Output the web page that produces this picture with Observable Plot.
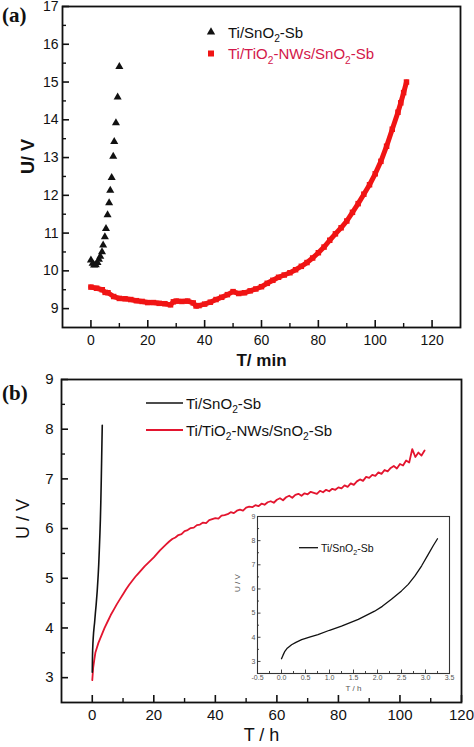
<!DOCTYPE html>
<html>
<head>
<meta charset="utf-8">
<script src="https://cdn.jsdelivr.net/npm/d3@7"></script>
<script src="https://cdn.jsdelivr.net/npm/@observablehq/plot@0.6"></script>
<style>
  body { margin: 0; background: #fff; }
  #fig { position: relative; width: 474px; height: 747px; overflow: hidden; background: #fff; }
  #fig > div { position: absolute; }
</style>
</head>
<body>
<div id="fig"></div>
<script>
const FONT = '"Liberation Sans", Arial, Helvetica, sans-serif';
const SERIF = '"Liberation Serif", "Times New Roman", serif';

// Series names (underscore marks a subscript digit)
const seriesNames = ["Ti/SnO_2-Sb", "Ti/TiO_2-NWs/SnO_2-Sb"];

// ---- Panel (a): cell voltage during accelerated life test, time in minutes ----
const tA_SnO2 = [0, 0.6, 1.1, 1.7, 2.3, 2.8, 3.3, 3.9, 4.3, 4.9, 5.3, 5.85, 6.4, 6.8, 7.3, 7.85, 8.2, 8.8, 9.4, 10];
const uA_SnO2 = [10.28, 10.2, 10.15, 10.16, 10.22, 10.3, 10.38, 10.5, 10.68, 10.9, 11.12, 11.48, 11.8, 12.13, 12.47, 13.03, 13.42, 13.92, 14.6, 15.41];

const tA_NWs = [0, 2, 4, 5, 6, 8, 10, 12, 14, 16, 18, 20, 22, 24, 26, 28, 29, 30, 32, 34,
  36, 37, 38, 40, 42, 44, 46, 48, 50, 52, 54, 56, 58, 60, 62, 64, 66, 68, 70, 72,
  74, 76, 78, 80, 82, 84, 86, 88, 90, 92, 94, 96, 98, 100, 102, 104, 106, 108, 109, 110, 111];
const uA_NWs = [9.57, 9.54, 9.50, 9.43, 9.42, 9.32, 9.27, 9.26, 9.24, 9.21, 9.19, 9.16, 9.16, 9.14, 9.13, 9.10, 9.18, 9.20, 9.19, 9.20,
  9.15, 9.07, 9.08, 9.12, 9.17, 9.24, 9.30, 9.37, 9.45, 9.40, 9.42, 9.47, 9.52, 9.58, 9.67, 9.75, 9.83, 9.89, 9.95, 10.03,
  10.12, 10.22, 10.34, 10.48, 10.63, 10.81, 10.98, 11.14, 11.32, 11.55, 11.78, 12.03, 12.28, 12.57, 12.90, 13.30, 13.75, 14.20, 14.45, 14.72, 15.00];

const xTicksA = [0, 20, 40, 60, 80, 100, 120];
const xMinorA = [10, 30, 50, 70, 90, 110];
const yTicksA = [9, 10, 11, 12, 13, 14, 15, 16, 17];
const yMinorA = [9.5, 10.5, 11.5, 12.5, 13.5, 14.5, 15.5, 16.5];

// ---- Panel (b): cell voltage vs. time in hours ----
const tB_SnO2 = [0, 0.03, 0.07, 0.12, 0.21, 0.3, 0.42, 0.6, 0.76, 1.0, 1.25, 1.6, 1.94, 2.1, 2.29, 2.5, 2.64, 2.78, 2.92, 3.06, 3.16, 3.25];
const uB_SnO2 = [3.11, 3.25, 3.42, 3.55, 3.69, 3.79, 3.90, 4.02, 4.11, 4.29, 4.46, 4.74, 5.08, 5.28, 5.57, 5.92, 6.19, 6.54, 6.96, 7.44, 7.79, 8.08];

const tB_NWs = [0, 0.3, 0.7, 1, 1.5, 2, 3, 4, 5, 6, 7, 8, 9, 10, 11, 12, 13, 14, 15, 16, 17, 18, 19, 20, 21, 22, 23, 24,
  25, 26, 27, 28, 29, 30, 31, 32, 33, 34, 35, 36, 37, 38, 39, 40, 41, 42, 43, 44, 45, 46, 47, 48, 49, 50,
  51, 52, 53, 54, 55, 56, 57, 58, 59, 60, 61, 62, 63, 64, 65, 66, 67, 68, 69, 70, 71, 72, 73, 74, 75, 76, 77, 78, 79, 80,
  81, 82, 83, 84, 85, 86, 87, 88, 89, 90, 91, 92, 93, 94, 95, 96, 97, 98, 99, 100, 101, 102, 103, 104, 105, 106, 107, 108];
const uB_NWs = [2.95, 3.2, 3.38, 3.5, 3.6, 3.7, 3.85, 4.0, 4.13, 4.26, 4.37, 4.48, 4.58, 4.68, 4.78, 4.87, 4.95, 5.03, 5.10, 5.17, 5.24, 5.30, 5.36, 5.42, 5.49, 5.56, 5.62, 5.68,
  5.74, 5.79, 5.82, 5.87, 5.89, 5.95, 5.97, 6.01, 6.02, 6.07, 6.08, 6.12, 6.11, 6.17, 6.19, 6.21, 6.20, 6.26, 6.27, 6.29, 6.33, 6.31, 6.36, 6.38, 6.36, 6.42,
  6.44, 6.43, 6.47, 6.45, 6.50, 6.48, 6.53, 6.55, 6.52, 6.58, 6.61, 6.57, 6.63, 6.66, 6.62, 6.68, 6.70, 6.66, 6.71, 6.69, 6.74, 6.72, 6.70, 6.76, 6.73, 6.78, 6.75, 6.80, 6.78, 6.83,
  6.81, 6.87, 6.84, 6.91, 6.88, 6.95, 6.99, 6.96, 7.04, 7.02, 7.08, 7.06, 7.13, 7.10, 7.18, 7.15, 7.22, 7.26, 7.21, 7.30, 7.27, 7.37, 7.33, 7.60, 7.44, 7.53, 7.47, 7.57];

const xTicksB = [0, 20, 40, 60, 80, 100, 120];
const xMinorB = [10, 30, 50, 70, 90, 110];
const yTicksB = [3, 4, 5, 6, 7, 8, 9];
const yMinorB = [3.5, 4.5, 5.5, 6.5, 7.5, 8.5];

// ---- Inset of panel (b): the Ti/SnO2-Sb curve on its own time scale ----
const xTicksIn = [-0.5, 0, 0.5, 1, 1.5, 2, 2.5, 3, 3.5];
const xMinorIn = [-0.25, 0.25, 0.75, 1.25, 1.75, 2.25, 2.75, 3.25];
const yTicksIn = [3, 4, 5, 6, 7, 8, 9];
const yMinorIn = [3.5, 4.5, 5.5, 6.5, 7.5, 8.5];

const zipTU = (t, u) => t.map((x, i) => ({t: x, u: u[i]}));
const dataA1 = zipTU(tA_SnO2, uA_SnO2);
const dataA2 = zipTU(tA_NWs, uA_NWs);
const dataB1 = zipTU(tB_SnO2, uB_SnO2);
const dataB2 = zipTU(tB_NWs, uB_NWs);

const RED = "#f01414";
const RED_TEXT = "#d3174a";
const RED_LINE = "#e3152f";
const INK = "#111";
const intFmt = d => String(d);

// Inward-pointing ticks on the bottom and left frame edges
function inwardTicks(xs, ys, frameW, frameH, len, style) {
  return [
    Plot.tickX(xs, {x: d => d, insetTop: frameH - len, ...style}),
    Plot.tickY(ys, {y: d => d, insetRight: frameW - len, ...style})
  ];
}

// Text with subscript digits written as "_2"
function subText(g, x, y, str, size, color, anchor = "start") {
  const t = g.append("text").attr("x", x).attr("y", y)
    .attr("font-size", size).attr("fill", color)
    .attr("font-family", FONT).attr("text-anchor", anchor);
  let lowered = false;
  str.split(/(_\d)/).forEach(part => {
    if (!part) return;
    if (part.startsWith("_")) {
      t.append("tspan").attr("dy", size * 0.3).attr("font-size", size * 0.68).text(part.slice(1));
      lowered = true;
    } else {
      const s = t.append("tspan").text(part);
      if (lowered) { s.attr("dy", -size * 0.3); lowered = false; }
    }
  });
  return t;
}

function panelLabel(sel, y, label) {
  sel.append("text").attr("x", 2).attr("y", y).attr("text-anchor", "start")
    .attr("font-family", SERIF).attr("font-weight", "bold")
    .attr("font-size", 21).attr("fill", INK).text(label);
}

const fig = d3.select("#fig");
function place(svg, left, top) {
  fig.append("div").style("left", left + "px").style("top", top + "px").node().appendChild(svg);
  return d3.select(svg);
}

// ================= Panel (a) =================
const A = {w: 474, h: 376, ml: 62, mr: 14, mt: 6, mb: 49};
const aFW = A.w - A.ml - A.mr, aFH = A.h - A.mt - A.mb;
const panelA = Plot.plot({
  width: A.w, height: A.h,
  marginLeft: A.ml, marginRight: A.mr, marginTop: A.mt, marginBottom: A.mb,
  x: {domain: [-10, 130]},
  y: {domain: [8.5, 17]},
  style: {background: "transparent", fontFamily: FONT, color: INK, overflow: "visible"},
  marks: [
    Plot.line(dataA2, {x: "t", y: "u", stroke: RED, strokeWidth: 5}),
    Plot.dot(dataA2, {x: "t", y: "u", symbol: "square", r: 3.1, fill: RED, stroke: "none"}),
    Plot.dot(dataA1, {x: "t", y: "u", symbol: "triangle", r: 3, fill: INK, stroke: "none"}),
    ...inwardTicks(xTicksA, yTicksA, aFW, aFH, 7, {stroke: INK, strokeWidth: 1.6}),
    ...inwardTicks(xMinorA, yMinorA, aFW, aFH, 4, {stroke: INK, strokeWidth: 1.4}),
    Plot.frame({stroke: INK, strokeWidth: 1.8}),
    Plot.axisX(xTicksA, {tickSize: 0, tickPadding: 8, fontSize: 14, label: null, tickFormat: intFmt}),
    Plot.axisY(yTicksA, {tickSize: 0, tickPadding: 4, fontSize: 14, label: null, tickFormat: intFmt}),
    Plot.text(["T/ min"], {frameAnchor: "bottom", dy: 38, fontSize: 17, fontWeight: "bold", fill: INK}),
    Plot.text(["U/ V"], {frameAnchor: "left", dx: -34, dy: 7, rotate: -90, fontSize: 18, fontWeight: "bold", fill: INK})
  ]
});
const sa = place(panelA, 0, 0);
panelLabel(sa, 22, "(a)");
const legA = sa.append("g");
legA.append("path").attr("d", d3.symbol(d3.symbolTriangle, 30)()).attr("transform", "translate(211,32)").attr("fill", INK);
legA.append("rect").attr("x", 208).attr("y", 50.5).attr("width", 6).attr("height", 6).attr("fill", RED);
subText(legA, 228, 37.5, seriesNames[0], 15, INK);
subText(legA, 228, 59, seriesNames[1], 15, RED_TEXT);

// ================= Panel (b) =================
const B = {w: 474, h: 377, ml: 61, mr: 13, mt: 9, mb: 45};
const bFW = B.w - B.ml - B.mr, bFH = B.h - B.mt - B.mb;
const panelB = Plot.plot({
  width: B.w, height: B.h,
  marginLeft: B.ml, marginRight: B.mr, marginTop: B.mt, marginBottom: B.mb,
  x: {domain: [-10, 120]},
  y: {domain: [2.5, 9]},
  style: {background: "transparent", fontFamily: FONT, color: INK, overflow: "visible"},
  marks: [
    Plot.line(dataB2, {x: "t", y: "u", stroke: RED_LINE, strokeWidth: 1.8}),
    Plot.line(dataB1, {x: "t", y: "u", stroke: INK, strokeWidth: 1.6}),
    ...inwardTicks(xTicksB, yTicksB, bFW, bFH, 7, {stroke: INK, strokeWidth: 1.6}),
    ...inwardTicks(xMinorB, yMinorB, bFW, bFH, 4, {stroke: INK, strokeWidth: 1.4}),
    Plot.frame({stroke: INK, strokeWidth: 1.8}),
    Plot.axisX(xTicksB, {tickSize: 0, tickPadding: 7, fontSize: 15, label: null, tickFormat: intFmt}),
    Plot.axisY(yTicksB, {tickSize: 0, tickPadding: 8, fontSize: 15, label: null, tickFormat: intFmt}),
    Plot.text(["T / h"], {frameAnchor: "bottom", dy: 38, fontSize: 18, fill: INK}),
    Plot.text(["U / V"], {frameAnchor: "left", dx: -38, dy: -2, rotate: -90, fontSize: 18, fill: INK})
  ]
});
const sb = place(panelB, 0, 370);
panelLabel(sb, 30, "(b)");
const legB = sb.append("g");
legB.append("line").attr("x1", 146).attr("x2", 183).attr("y1", 33).attr("y2", 33).attr("stroke", INK).attr("stroke-width", 1.6);
legB.append("line").attr("x1", 146).attr("x2", 183).attr("y1", 60).attr("y2", 60).attr("stroke", RED_LINE).attr("stroke-width", 1.8);
subText(legB, 186, 38.5, seriesNames[0], 15, INK);
subText(legB, 186, 65.5, seriesNames[1], 15, INK);

// ================= Inset =================
const I = {w: 225, h: 190, ml: 27, mr: 6, mt: 6, mb: 27};
const iFW = I.w - I.ml - I.mr, iFH = I.h - I.mt - I.mb;
const inset = Plot.plot({
  width: I.w, height: I.h,
  marginLeft: I.ml, marginRight: I.mr, marginTop: I.mt, marginBottom: I.mb,
  x: {domain: [-0.5, 3.5]},
  y: {domain: [2.5, 9]},
  style: {background: "transparent", fontFamily: FONT, color: "#555", overflow: "visible"},
  marks: [
    Plot.line(dataB1, {x: "t", y: "u", stroke: INK, strokeWidth: 1.3}),
    ...inwardTicks(xTicksIn, yTicksIn, iFW, iFH, 3.5, {stroke: "#444", strokeWidth: 1}),
    ...inwardTicks(xMinorIn, yMinorIn, iFW, iFH, 2, {stroke: "#444", strokeWidth: 1}),
    Plot.frame({stroke: "#333", strokeWidth: 1.1}),
    Plot.axisX(xTicksIn, {tickSize: 0, tickPadding: 2, fontSize: 7, fill: "#555", label: null, tickFormat: d => d.toFixed(1)}),
    Plot.axisY(yTicksIn, {tickSize: 0, tickPadding: 2, fontSize: 7, fill: "#555", label: null, tickFormat: intFmt}),
    Plot.text(["T / h"], {frameAnchor: "bottom", dy: 17, fontSize: 8, fill: "#555"}),
    Plot.text(["U / V"], {frameAnchor: "left", dx: -20, dy: -3, rotate: -90, fontSize: 8, fill: "#555"})
  ]
});
const si = place(inset, 230, 510);
si.append("line").attr("x1", 69).attr("x2", 88).attr("y1", 37.7).attr("y2", 37.7).attr("stroke", INK).attr("stroke-width", 1.3);
subText(si, 91, 41.5, seriesNames[0], 10.5, INK);
</script>
</body>
</html>
